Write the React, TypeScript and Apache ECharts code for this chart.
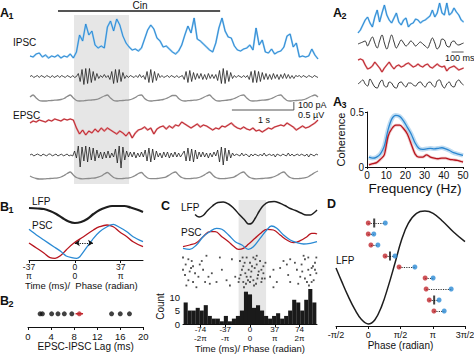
import { useEffect, useRef } from 'react';
import * as echarts from 'echarts';

const FONT = '"Liberation Sans", Arial, Helvetica, sans-serif';
const BLUE = '#1f80cf';
const BLUE_HALO = '#8cc6ee';
const RED = '#b8151e';
const RED_HALO = '#e0898d';
const BLACK = '#1e1e1e';
const GRAY = '#8c8c8c';
const SHADE = '#e6e6e6';

// ---------- A1 (time in s) ----------
const a1Step = 0.05; // s, IPSC / EPSC / slow traces
const a1LfpStep = 0.03; // s, filtered LFP traces
const a1Max = 4.65;
const cinPeriod = [0.452, 3.07];
const a1Shaded = [0.71, 1.6];
const a1ScaleBar = [3.26, 4.26];
const ipscA1 = [9,8,11,12,8,10,7,9,8,10, 7,9,8,11,7,13,30,24,41,30, 34,20,17,19,17,38,44,34,46,40, 29,22,18,15,16,14,17,26,35,40, 36,27,24,18,19,16,13,11,14,20, 30,39,32,47,26,24,21,18,15,13, 22,37,47,34,28,27,19,15,14,16, 17,20,15,37,20,25,13,12,16,11, 13,14,18,29,31,18,22,8,9,8, 9,16,10,6];
const epscA1 = [22,24,23,25,24,23,25,24,26,25, 24,26,25,26,25,17,11,15,10,14, 12,16,13,17,14,17,15,13,11,14, 12,9,13,7,12,15,16,18,15,17, 11,16,18,19,16,19,17,20,19,23, 21,19,17,19,21,18,20,19,17,15, 17,16,19,18,20,22,19,17,16,18, 16,15,17,14,15,13,15,17,16,18, 19,20,19,22,20,18,15,17,19,17, 18,20,22,25];
const lfpIpscA1 = [
  0,1,-1,0,1,-1,1,0,-1,1, 0,-1,1,-1,0,1,-1,1,0,-1, 1,0,-1,1,-1,0,
  3,-5,7,-8,8,-7,8,-6,5,-4,3,-2,
  1,-1,2,-1,1,
  -3,5,-7,7,-6,7,-5,4,-2,
  1,-1,1,0,-1,1,-1,2,-1,1,
  -3,5,-6,7,-6,5,-4,3,-1,
  1,-1,0,1,-1,1,0,-1,1,-1,0,1,
  -3,5,-6,6,-5,4,
  -3,3,-2,3,-3,2,-3,3,-2,2,-2,2,
  -4,6,-7,8,-7,6,-5,4,-2,
  1,-1,1,0,-1,1,-1,1,
  -3,5,-6,6,-6,5,-5,4,-3,3,
  -3,2,-3,3,-2,2,-3,2,-2,3,-2,2,-2,1,-2,1,
  0,1,-1,1,0,-1,1,0,-1,1,0,-1,
];
const lfpEpscA1 = [
  0,1,-1,0,1,0,-1,1,0,-1,1,1,-1,0,1,-1,0,1,-1,0,1,-1,0,-1,
  4,-3,9,-12,8,-6,9,-7,8,-5,7,-6,5,-3,
  3,-4,3,-3,4,-3,2,-2,
  6,-8,9,-13,8,-5,4,-2,
  3,-2,3,-3,2,-2,3,-2,
  5,-6,7,-7,6,-5,4,-2,
  2,-3,3,-2,3,-3,2,-2,3,-2,2,-2,1,
  4,-6,7,-6,6,-7,5,-4,3,
  -2,3,-2,2,-3,2,-2,3,-1,
  5,-7,8,-10,7,-6,5,-3,2,
  -1,1,0,-1,2,-1,1,0,-2,1,-1,1,0,-1,1,-1,2,-1,0,1,-1,1,-2,1,0,-1,1,0,-1,2,-1,1,-1,0,1,-1,1,0,-1,1,-2,1,0,-1,1,0,
];
const slowIpscA1 = [4,6,3,0.5,0,0,0.3,0.5,0.8,1, 1.5,2.5,4.5,6,3,0.5,0,0.2,0.5,0.8, 1,1.3,2,3.5,5,6,3,0.5,0,0.3, 0.5,0.8,1.2,2,3.5,5.5,6,2.5,0.5,0, 0.3,0.6,1,1.5,2.5,4,5.5,5.5,2.5,0.5, 0,0.3,0.5,0.8,1.2,2,3.5,5,6,3, 0.5,0,0.3,0.6,1,1.5,2.5,4,5.5,6, 3,0.5,0,0.2,0.5,0.8,1,1.5,2.5,4, 5.5,6,3,0.5,0,0.3,0.5,0.8,1.2,2, 3.5,5,6,4];
const slowEpscA1 = [3,1.5,0.5,0,0,0.2,0.4,0.6,0.8,1.2, 2,3.5,5.5,7,4,1.5,0.5,0.2,0.3,0.5, 0.8,1,1.8,3,5,6.5,4,1.5,0.5,0.3, 0.5,0.8,1.2,2,3.5,5.5,6.5,3.5,1,0.3, 0.3,0.5,0.8,1.3,2.2,4,6,7,4,1.5, 0.5,0.3,0.5,0.8,1.2,2,3.5,5.5,7,4, 1.5,0.5,0.3,0.5,0.8,1.3,2.2,4,6,7, 4,1.5,0.5,0.2,0.3,0.5,0.8,1,1.5,2.5, 4,6,7,4,1.5,0.5,0.3,0.5,0.8,1.3, 2.5,4.5,6.5,8];

// ---------- A2 (time in ms) ----------
const a2Step = 20;
const a2Max = 880;
const a2ScaleBar = [780, 880];
const ipscA2 = [4,7,12,17,20,14,10,20,27,15, 24,32,22,17,14,19,24,15,12,17, 19,10,13,14,18,17,14,16,17,19, 21,27,20,24,34,24,22,34,22,24, 29,25,22,17,15];
const lfpIpscA2 = [0,1,2,3,-2,3,7,1,-4,3, 9,1,-5,2,9,2,-4,0,4,1, -2,0,3,1,-2,0,2,0,-2,-4, 1,6,1,-5,-2,5,4,-2,-3,2, 3,0,-1,0,1];
const epscA2 = [17,18,17,12,8,9,11,15,12,9, 5,9,12,15,11,8,11,12,10,11, 13,14,12,10,11,13,11,10,12,13, 10,9,11,13,11,10,11,6,9,10, 11,9,7,8,9];
const lfpEpscA2 = [0,2,4,0,-2,5,1,-3,-4,1, 4,-2,-3,2,1,-3,-4,1,2,-1, -3,1,1,-1,-2,1,2,-1,-3,1, 2,-1,-3,3,4,-1,-4,0,2,-2, -3,2,4,1,-1];

// ---------- A3 coherence ----------
const cohFreq = [1,3,5,7,9,11,13,15,17,19,21,23,25,27,29,31,33,35,37,39,41,43,45,47,49,50];
const cohIpsc = [0.09,0.08,0.09,0.12,0.19,0.34,0.44,0.47,0.46,0.42,0.36,0.3,0.22,0.17,0.16,0.165,0.17,0.165,0.17,0.175,0.165,0.15,0.13,0.12,0.11,0.105];
const cohEpsc = [0.02,0.03,0.04,0.07,0.11,0.28,0.35,0.38,0.38,0.35,0.3,0.21,0.12,0.09,0.09,0.11,0.09,0.08,0.075,0.08,0.08,0.07,0.065,0.06,0.05,0.045];

// ---------- B1 ----------
const b1TickMs = [-37, 0, 37];
const b1TickPhase = ['π', '0', 'π'];
const b1LfpT = [-37,-30,-25,-20,-15,-10,-5,0,5,10,15,20,25,30,35,40,45,50,55];
const b1Lfp = [20,19.5,19,17,14,10,6.5,5,6,9,14,18,20.5,22,22,22,20.5,18.5,16];
const b1EpscT = [-37,-31,-25,-20,-16,-11,-7,-1,7,15,20,26,31,36,42,47,55];
const b1Epsc = [17,12,7,2.3,1.7,5,10,16.7,23.3,30,33.3,35,33.3,28.3,23.3,18.3,13.3];
const b1IpscT = [-37,-31,-25,-17,-11,-7,-2.5,1.5,4,10,15,20,26,31,36,42,47,55];
const b1Ipsc = [30.7,25,20,13.3,8.3,4,2.3,1.7,3.3,13.3,21.7,28.3,33.3,35.7,32.7,28.3,23.3,18.3];
const b1LagArrow = [0, 14.7];

// ---------- B2 ----------
const lagCells = [2.1, 2.5, 4.1, 5.2, 6.3, 7.6, 14.5, 16.0, 17.6];
const lagMean = 8.9;
const lagSem = 0.65;

// ---------- C ----------
const cTickMs = [-74, -37, 0, 37, 74];
const cTickPhase = ['-2π', '-π', '0', 'π', '2π'];
const cShaded = [-17, 24];
const cLfpT = [-82,-76,-70,-64,-56,-48,-40,-32,-24,-16,-8,-2,2,8,14,20,28,36,44,52,60,68,76,84,90,96,100];
const cLfp = [13.5,11,12.5,17,22,25.5,26,24,19.5,13.5,8,4,4.5,10,17,22.5,26,26.5,25,22.5,19.5,17.5,15,13,13,15.5,18];
const cEpscT = [-100,-90,-80,-70,-60,-52,-42,-32,-25,-17,-10,-2.5,7.5,17,25,35,45,55,65,75,85,92,97,100];
const cEpsc = [7.3,9,11.3,17.3,22.3,22.3,17.3,12.3,8,4.7,5.7,9.7,15.7,21.3,24.7,24,19,14,11.3,13.3,17.3,20.7,20.7,20];
const cIpscT = [-100,-90,-80,-70,-60,-50,-42,-32,-22,-12,-2.5,5,15,25,32,40,50,60,70,80,90,100];
const cIpsc = [5.7,4.7,9,17.3,22.3,25.7,24.7,19,12.3,9,4.7,7.3,15.7,24,28,25.7,19,14,11.3,10,10.7,12.3];
const rasterSpikes = [
  [-100,18],[-92,17],[-87,16],[-96,14],[-85,13],[-75,14],[-100,11],[-90,10],[-82,9],[-97,8],
  [-77,7],[-92,5],[-85,4],[-67,4],[-60,3],[-70,11],[-62,7],[-57,9],[-72,16],[-95,2],[-80,1],[-65,19],[-88,12],
  [-27,17],[-42,11],[-50,4],[-35,5],[-22,7],[-45,18],[-30,2],
  [-15,16],[-10,13],[-5,18],[0,15],[5,18],[10,14],[-12,11],[-7,9],[-2,11],[2,10],[7,12],[15,16],[20,13],
  [-16,6],[-10,4],[-5,7],[0,4],[5,5],[12,8],[17,4],[22,6],[10,19],[17,11],[-11,18],[1,7],[11,6],[-6,3],
  [9,3],[20,9],[-17,4],[-8,15],[3,13],[13,10],[-14,8],[8,17],[18,6],[-3,5],[23,15],[6,2],[-9,1],
  [35,11],[45,12],[55,14],[40,4],[60,4],[30,7],[50,16],[57,8],[60,17],[35,1],
  [70,11],[77,14],[82,17],[87,18],[92,12],[97,15],[75,7],[85,4],[90,8],[95,5],[99,9],[80,19],[99,18],
  [67,15],[92,4],[87,11],[82,6],[97,11],[72,3],[88,2],[94,13],[78,10],
];
const histBinStart = -99;
const histBinWidth = 6;
const histCounts = [8,5,5,6,5,7,3,2,2,1,3,1,2,3,5,12,11,6,7,5,3,2,3,4,2,3,5,9,8,5,9,13,8];

// ---------- D ----------
const dTickPhase = ['-π/2', '0', 'π/2', 'π', '3π/2'];
const dLfpPhase = [-1.571,-1.295,-0.973,-0.647,-0.32,0,0.326,0.65,0.973,1.3,1.62,1.95,2.35,2.76,3.16,3.65,4.14,4.712];
const dLfp = [58,44.6,29.6,16.3,6.3,2,6.3,19.6,39.6,62.7,86,102.7,112.7,115,112.7,104.3,94.3,84.3];
const dEpscPhase = [0, 0, 0.13, 0.82, 1.5, 2.77, 2.82, 2.97, 3.2];
const dIpscPhase = [0.83, 0.27, 0.47, 1.3, 2.27, 3.16, 4.04, 3.45, 3.7];
const dMeans = [[0.29, 1], [1.06, 4], [3.21, 8]];

const sampled = (vals: number[], step: number) => vals.map((v, i) => [Math.round(i * step * 1000) / 1000, v]);
const paired = (xs: number[], ys: number[]) => xs.map((x, i) => [x, ys[i]]);

function buildOption() {
  const grid: any[] = [];
  const xAxis: any[] = [];
  const yAxis: any[] = [];
  const series: any[] = [];
  const tickText = { fontSize: 9, fontFamily: FONT, color: '#111' };
  const axisLine = { show: true, lineStyle: { color: '#111', width: 1 } };

  const panel = (box: number[], xa: any, ya: any) => {
    const i = grid.length;
    grid.push({ left: box[0], top: box[1], width: box[2], height: box[3], containLabel: false, outerBoundsMode: 'none' });
    xAxis.push({ type: 'value', gridIndex: i, show: false, splitLine: { show: false }, ...xa });
    yAxis.push({ type: 'value', gridIndex: i, show: false, splitLine: { show: false }, ...ya });
    return i;
  };
  const trace = (gi: number, data: any[], color: string, width: number, extra: any = {}) =>
    series.push({ type: 'line', xAxisIndex: gi, yAxisIndex: gi, data, symbol: 'none', clip: false, silent: true, z: 3, lineStyle: { color, width }, ...extra });
  const shade = (gi: number, range: number[]) =>
    series.push({ type: 'line', xAxisIndex: gi, yAxisIndex: gi, data: [], silent: true, z: 1,
      markArea: { silent: true, itemStyle: { color: SHADE }, data: [[{ xAxis: range[0] }, { xAxis: range[1] }]] } });
  const twoLine = (ticks: number[], phases: string[]) => (v: number) => {
    const k = ticks.indexOf(Math.round(v));
    return k < 0 ? '' : `${ticks[k]}\n${phases[k]}`;
  };

  // ----- A1 -----
  const xA1 = { min: 0, max: a1Max };
  const gCin = panel([30, 5, 288, 10], xA1, { min: 0, max: 10 });
  trace(gCin, [[cinPeriod[0], 4], [cinPeriod[1], 4]], '#555', 2);
  const gI = panel([30, 15, 288, 50], xA1, { min: 0, max: 50 });
  shade(gI, a1Shaded);
  trace(gI, sampled(ipscA1, a1Step), BLUE_HALO, 1.8);
  trace(gI, sampled(ipscA1, a1Step), BLUE, 0.8);
  const gL1 = panel([30, 65, 288, 23], xA1, { min: -11.5, max: 11.5 });
  shade(gL1, a1Shaded);
  trace(gL1, sampled(lfpIpscA1, a1LfpStep), BLACK, 0.8);
  const gS1 = panel([30, 88, 288, 18], xA1, { min: -5, max: 13 });
  shade(gS1, a1Shaded);
  trace(gS1, sampled(slowIpscA1, a1Step), GRAY, 1.3, { smooth: 0.3 });
  const gE = panel([30, 106, 288, 39], xA1, { min: 0, max: 39 });
  shade(gE, a1Shaded);
  trace(gE, sampled(epscA1, a1Step), RED_HALO, 1.8);
  trace(gE, sampled(epscA1, a1Step), RED, 0.8);
  const gL2 = panel([30, 145, 288, 20], xA1, { min: -10, max: 10 });
  shade(gL2, a1Shaded);
  trace(gL2, sampled(lfpEpscA1, a1LfpStep), BLACK, 0.8);
  const gS2 = panel([30, 165, 288, 19], xA1, { min: -5, max: 14 });
  shade(gS2, a1Shaded);
  trace(gS2, sampled(slowEpscA1, a1Step), GRAY, 1.3, { smooth: 0.3 });
  const gSc = panel([30, 100, 288, 12], xA1, { min: 0, max: 12 });
  trace(gSc, [[a1ScaleBar[0], 2], [a1ScaleBar[1], 2], [a1ScaleBar[1], 10]], '#555', 1);

  // ----- A2 -----
  const xA2 = { min: 0, max: a2Max };
  const gA2i = panel([358, 0, 105.6, 37], xA2, { min: 0, max: 37 });
  trace(gA2i, sampled(ipscA2, a2Step), BLUE_HALO, 1.8);
  trace(gA2i, sampled(ipscA2, a2Step), BLUE, 0.8);
  const gA2l1 = panel([358, 37, 105.6, 14], xA2, { min: -7, max: 7 });
  trace(gA2l1, sampled(lfpIpscA2, a2Step), BLACK, 0.9, { smooth: 0.4 });
  const gA2s = panel([358, 48, 105.6, 8], xA2, { min: 0, max: 8 });
  trace(gA2s, [[a2ScaleBar[0], 4], [a2ScaleBar[1], 4]], '#555', 1);
  const gA2e = panel([358, 55, 105.6, 22], xA2, { min: 0, max: 22 });
  trace(gA2e, sampled(epscA2, a2Step), RED_HALO, 1.8);
  trace(gA2e, sampled(epscA2, a2Step), RED, 0.8);
  const gA2l2 = panel([358, 77, 105.6, 14], xA2, { min: -7, max: 7 });
  trace(gA2l2, sampled(lfpEpscA2, a2Step), BLACK, 0.9, { smooth: 0.4 });

  // ----- A3 -----
  const gA3 = panel([367, 112, 96, 55],
    { show: true, min: 0, max: 50, interval: 10, axisLine, axisTick: { show: true, length: 2, lineStyle: { color: '#111' } },
      axisLabel: { ...tickText, fontSize: 10, margin: 3 },
      name: 'Frequency (Hz)', nameLocation: 'middle', nameGap: 14, nameTextStyle: { fontSize: 13.5, fontFamily: FONT, color: '#111' } },
    { show: true, min: 0, max: 0.5, interval: 0.5, axisLine, axisTick: { show: true, length: 2, lineStyle: { color: '#111' } },
      axisLabel: { ...tickText, fontSize: 10, margin: 3 },
      name: 'Coherence', nameLocation: 'middle', nameRotate: 90, nameGap: 13, nameTextStyle: { fontSize: 11, fontFamily: FONT, color: '#111' } });
  trace(gA3, paired(cohFreq, cohIpsc), 'rgba(42,138,212,0.3)', 4.5, { smooth: 0.3 });
  trace(gA3, paired(cohFreq, cohEpsc), 'rgba(193,39,45,0.25)', 3, { smooth: 0.3 });
  trace(gA3, paired(cohFreq, cohIpsc), '#2a86d0', 1.3, { smooth: 0.3 });
  trace(gA3, paired(cohFreq, cohEpsc), RED, 1.3, { smooth: 0.3 });

  // ----- B1 -----
  const xB1 = { min: -37, max: 55 };
  const gB1l = panel([29, 200, 114, 28], xB1, { min: 0, max: 28 });
  trace(gB1l, paired(b1LfpT, b1Lfp), BLACK, 2.2, { smooth: 0.4 });
  const gB1p = panel([29, 220, 114, 40],
    { ...xB1, show: true, axisLine,
      axisTick: { show: true, length: 3, customValues: b1TickMs, lineStyle: { color: '#111' } },
      axisLabel: { ...tickText, fontSize: 8.5, margin: 3, lineHeight: 8.5, customValues: b1TickMs, formatter: twoLine(b1TickMs, b1TickPhase) } },
    { min: 0, max: 40 });
  trace(gB1p, paired(b1EpscT, b1Epsc), RED, 1.3, { smooth: 0.4 });
  trace(gB1p, paired(b1IpscT, b1Ipsc), '#2a8ad4', 1.3, { smooth: 0.25 });
  series.push({ type: 'lines', coordinateSystem: 'cartesian2d', xAxisIndex: gB1p, yAxisIndex: gB1p, silent: true, z: 4,
    symbol: ['arrow', 'arrow'], symbolSize: 5,
    lineStyle: { color: '#111', width: 1.2, type: 'dotted', opacity: 1 },
    data: [{ coords: [[b1LagArrow[0], 17], [b1LagArrow[1], 17]] }] });

  // ----- B2 -----
  const gB2 = panel([28, 305, 115.3, 22],
    { show: true, min: 0, max: 20, interval: 4, axisLine,
      axisTick: { show: true, length: 3, lineStyle: { color: '#111' } },
      axisLabel: { ...tickText, fontSize: 9.5, margin: 4 },
      name: 'EPSC-IPSC Lag (ms)', nameLocation: 'middle', nameGap: 14, nameTextStyle: { fontSize: 10, fontFamily: FONT, color: '#111' } },
    { min: 0, max: 2 });
  series.push({ type: 'scatter', xAxisIndex: gB2, yAxisIndex: gB2, silent: true, z: 3, symbolSize: 5,
    itemStyle: { color: '#111' }, data: lagCells.map((v) => [v, 1.2]) });
  trace(gB2, [[lagMean - lagSem, 1.2], [lagMean + lagSem, 1.2]], '#c1272d', 1.5);
  series.push({ type: 'scatter', xAxisIndex: gB2, yAxisIndex: gB2, silent: true, z: 4, symbolSize: 5,
    itemStyle: { color: '#c1272d' }, data: [[lagMean, 1.2]] });

  // ----- C -----
  const xC = { min: -100, max: 100 };
  const gCl = panel([183, 200, 134, 28], xC, { min: 0, max: 28 });
  shade(gCl, cShaded);
  trace(gCl, paired(cLfpT, cLfp), BLACK, 1.5, { smooth: 0.4 });
  const gCp = panel([183, 228, 134, 26], xC, { min: 0, max: 26 });
  shade(gCp, cShaded);
  trace(gCp, paired(cEpscT, cEpsc), RED, 1.3, { smooth: 0.4 });
  trace(gCp, paired(cIpscT, cIpsc), '#2a8ad4', 1.3, { smooth: 0.4 });
  const gCr = panel([183, 254, 134, 35], xC, { min: 0, max: 20 });
  shade(gCr, cShaded);
  series.push({ type: 'scatter', xAxisIndex: gCr, yAxisIndex: gCr, silent: true, z: 3, symbol: 'rect', symbolSize: 1.8,
    itemStyle: { color: '#222' }, data: rasterSpikes });
  const gCh = panel([183, 289, 134, 35],
    { ...xC, show: true, axisLine,
      axisTick: { show: true, length: 3, customValues: cTickMs, lineStyle: { color: '#111' } },
      axisLabel: { ...tickText, fontSize: 8, margin: 1.5, lineHeight: 8.5, customValues: cTickMs, formatter: twoLine(cTickMs, cTickPhase) },
      name: 'Time (ms)/ Phase (radian)', nameLocation: 'middle', nameGap: 19, nameTextStyle: { fontSize: 9.5, fontFamily: FONT, color: '#111' } },
    { show: true, min: 0, max: 13, interval: 5, axisLine,
      axisTick: { show: true, length: 3, lineStyle: { color: '#111' } },
      axisLabel: { ...tickText, fontSize: 9.5, margin: 3, showMaxLabel: false },
      name: 'Count', nameLocation: 'middle', nameRotate: 90, nameGap: 12, nameTextStyle: { fontSize: 10, fontFamily: FONT, color: '#111' } });
  shade(gCh, cShaded);
  series.push({ type: 'bar', xAxisIndex: gCh, yAxisIndex: gCh, silent: true, z: 3, barWidth: 4.1,
    itemStyle: { color: '#1a1a1a' },
    data: histCounts.map((c, i) => [histBinStart + histBinWidth * i + histBinWidth / 2, c]) });

  // ----- D -----
  const xD = { min: -Math.PI / 2, max: (3 * Math.PI) / 2 };
  const dTicks = [-Math.PI / 2, 0, Math.PI / 2, Math.PI, (3 * Math.PI) / 2];
  const gDl = panel([336, 205, 129, 121],
    { ...xD, show: true, axisLine,
      axisTick: { show: true, length: 3, customValues: dTicks, lineStyle: { color: '#111' } },
      axisLabel: { ...tickText, margin: 4, customValues: dTicks,
        formatter: (v: number) => { const k = Math.round(v / (Math.PI / 2)) + 1; return dTickPhase[k] ?? ''; } },
      name: 'Phase (radian)', nameLocation: 'middle', nameGap: 14, nameTextStyle: { fontSize: 10, fontFamily: FONT, color: '#111' } },
    { min: 0, max: 121 });
  trace(gDl, paired(dLfpPhase, dLfp), BLACK, 1.5, { smooth: 0.4 });
  const gDd = panel([336, 217.5, 129, 99], xD, { min: 0.5, max: 9.5, inverse: true });
  series.push({ type: 'lines', coordinateSystem: 'cartesian2d', xAxisIndex: gDd, yAxisIndex: gDd, silent: true, z: 3,
    lineStyle: { color: '#333', width: 1.2, type: 'dotted', opacity: 1 },
    data: dEpscPhase.map((r, k) => ({ coords: [[r, k + 1], [dIpscPhase[k], k + 1]] })) });
  series.push({ type: 'scatter', xAxisIndex: gDd, yAxisIndex: gDd, silent: true, z: 4, symbolSize: 5,
    itemStyle: { color: '#c1272d' }, data: dEpscPhase.map((p, k) => [p, k + 1]) });
  series.push({ type: 'scatter', xAxisIndex: gDd, yAxisIndex: gDd, silent: true, z: 4, symbolSize: 5,
    itemStyle: { color: '#2a8ad4' }, data: dIpscPhase.map((p, k) => [p, k + 1]) });
  series.push({ type: 'scatter', xAxisIndex: gDd, yAxisIndex: gDd, silent: true, z: 5, symbol: 'rect', symbolSize: [2, 9],
    itemStyle: { color: '#111' }, data: dMeans });

  // ----- texts -----
  const T = (x: number, y: number, text: string, size = 10, opts: any = {}) => ({
    type: 'text', x, y, silent: true, z: 10,
    style: { text, fontSize: size, fontFamily: FONT, fill: '#111', align: opts.align || 'left', verticalAlign: 'middle', fontWeight: opts.bold ? 'bold' : 'normal' },
  });
  const label = (x: number, y: number, letter: string, sub?: string) => {
    const out: any[] = [T(x, y, letter, 12.5, { bold: true })];
    if (sub) out.push(T(x + 8.5, y + 3, sub, 9, { bold: true }));
    return out;
  };
  const graphic = [
    ...label(0, 12.5, 'A', '1'),
    ...label(333, 13, 'A', '2'),
    ...label(333, 101.5, 'A', '3'),
    ...label(0, 207, 'B', '1'),
    ...label(0, 301, 'B', '2'),
    ...label(161, 206, 'C'),
    ...label(327, 204, 'D'),
    T(140, 5, 'Cin', 10, { align: 'center' }),
    T(13, 42, 'IPSC', 10),
    T(13, 115, 'EPSC', 10),
    T(298, 105, '100 pA', 9),
    T(298, 115, '0.5 µV', 9),
    T(264, 119.5, '1 s', 9, { align: 'center' }),
    T(445, 57.5, '100 ms', 9),
    T(32, 201.5, 'LFP', 10),
    T(32, 225, 'PSC', 10),
    T(25, 285, 'Time (ms)/  Phase (radian)', 9.5),
    T(181, 207, 'LFP', 10),
    T(181, 232, 'PSC', 10),
    T(336, 260.5, 'LFP', 10),
  ];

  return { animation: false, backgroundColor: '#ffffff', grid, xAxis, yAxis, series, graphic };
}

export default function App() {
  const ref = useRef<HTMLDivElement>(null);
  useEffect(() => {
    if (!ref.current) return;
    const chart = echarts.init(ref.current, null, { renderer: 'svg' });
    chart.setOption(buildOption() as any);
    return () => chart.dispose();
  }, []);
  return <div ref={ref} style={{ position: 'absolute', left: 0, top: 0, width: 474, height: 354 }} />;
}
